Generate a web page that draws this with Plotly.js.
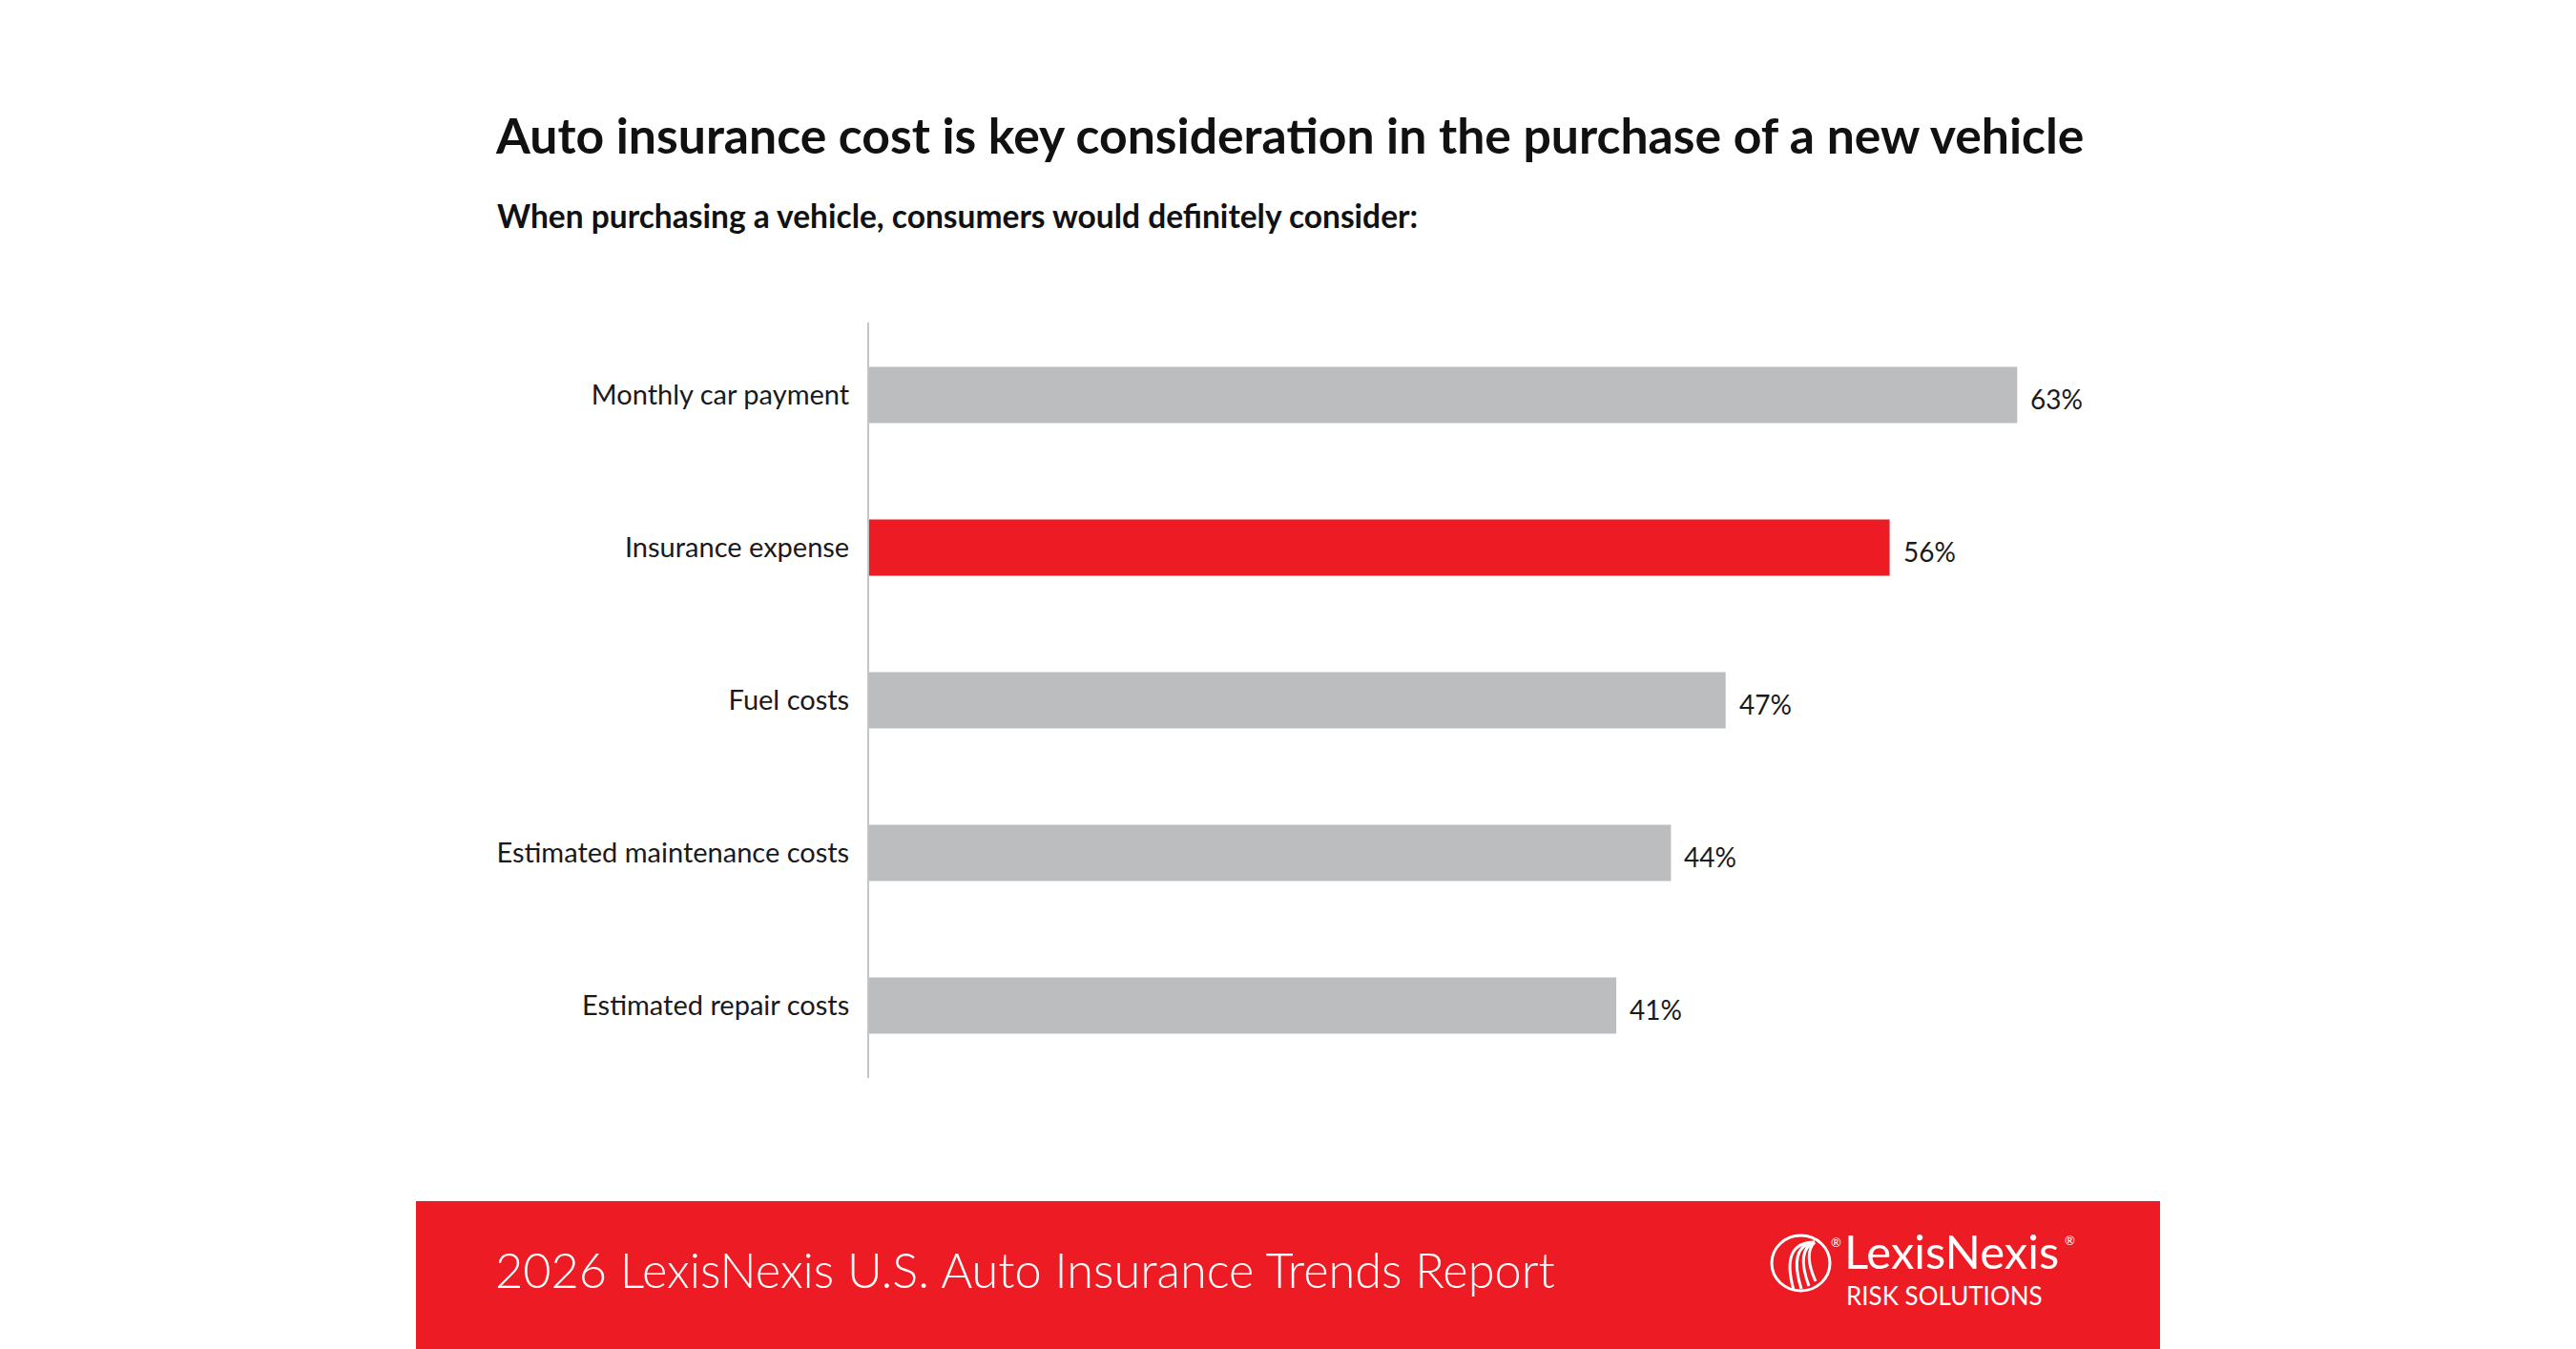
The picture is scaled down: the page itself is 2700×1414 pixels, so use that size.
<!DOCTYPE html>
<html>
<head>
<meta charset="utf-8">
<script src="https://cdn.plot.ly/plotly-3.0.1.min.js"></script>
<style>
  html, body { margin: 0; padding: 0; background: #ffffff; }
  #chart { width: 2700px; height: 1414px; }
</style>
</head>
<body>
<div id="chart"></div>
<script>
// Survey answers: share of consumers who would definitely consider each cost
const categories = [
  "Monthly car payment",
  "Insurance expense",
  "Fuel costs",
  "Estimated maintenance costs",
  "Estimated repair costs"
];
const shares = [63, 56, 47, 44, 41];
const highlighted = "Insurance expense";

const titleText = "Auto insurance cost is key consideration in the purchase of a new vehicle";
const subtitleText = "When purchasing a vehicle, consumers would definitely consider:";
const footerText = "2026 LexisNexis U.S. Auto Insurance Trends Report";
const brandName = "LexisNexis";
const brandTag = "RISK SOLUTIONS";

// Page geometry (pixels)
const W = 2700, H = 1414;
const M = { l: 911, r: 452, t: 338, b: 284 };
const plotW = W - M.l - M.r, plotH = H - M.t - M.b;

// pixel -> paper coordinates, for decoration placed outside the plot area
const px = x => (x - M.l) / plotW;
const py = y => (H - M.b - y) / plotH;
const pt = (x, y) => px(x) + "," + py(y);

const RED = "#ED1C24";
const GREY = "#BCBDBF";
const FONT = "Lato, 'Open Sans', sans-serif";

const barTrace = {
  type: "bar",
  orientation: "h",
  x: shares,
  y: categories,
  width: 0.37,
  marker: {
    color: categories.map(c => c === highlighted ? RED : GREY),
    line: { width: 0 }
  },
  hoverinfo: "skip"
};

// value labels to the right of each bar
const valueLabels = categories.map((c, i) => ({
  x: shares[i], y: c, xref: "x", yref: "y",
  text: shares[i] + "%",
  showarrow: false, xanchor: "left", yanchor: "middle",
  xshift: 12, yshift: -4,
  font: { family: FONT, size: 28, color: "#1a1a1a" }
}));

// Logo glyph: ring with sweeping arcs meeting at a spark point
const spark = [1902, 1302];
const arcs = [
  [[1866, 1302], [1880, 1352]],
  [[1874, 1306], [1888, 1351]],
  [[1882, 1310], [1896, 1348]],
  [[1890, 1314], [1903, 1343]]
].map(([c, e]) => ({
  type: "path", xref: "paper", yref: "paper", layer: "above",
  path: "M" + pt(spark[0], spark[1]) + " Q" + pt(c[0], c[1]) + " " + pt(e[0], e[1]),
  line: { color: "#ffffff", width: 3 }
}));

const shapes = [
  // footer band
  {
    type: "rect", xref: "paper", yref: "paper", layer: "below",
    x0: px(436), x1: px(2264), y0: py(1414), y1: py(1259),
    fillcolor: RED, line: { width: 0 }
  },
  // logo ring
  {
    type: "circle", xref: "paper", yref: "paper", layer: "above",
    x0: px(1857), x1: px(1918), y0: py(1353), y1: py(1295),
    line: { color: "#ffffff", width: 3 }
  },
  ...arcs
];

const annotations = [
  {
    xref: "paper", yref: "paper", x: px(519), y: py(226),
    xanchor: "left", yanchor: "middle", showarrow: false,
    text: subtitleText,
    font: { family: FONT, size: 33.5, weight: 700, color: "#111111" }
  },
  {
    xref: "paper", yref: "paper", x: px(517), y: py(1330),
    xanchor: "left", yanchor: "middle", showarrow: false,
    text: footerText,
    font: { family: FONT, size: 50.5, weight: 300, color: "#ffffff" }
  },
  {
    xref: "paper", yref: "paper", x: px(1931), y: py(1311),
    xanchor: "left", yanchor: "middle", showarrow: false,
    text: brandName,
    font: { family: FONT, size: 49, weight: 400, color: "#ffffff" }
  },
  {
    xref: "paper", yref: "paper", x: px(2162), y: py(1300),
    xanchor: "left", yanchor: "middle", showarrow: false,
    text: "®",
    font: { family: FONT, size: 13, color: "#ffffff" }
  },
  {
    xref: "paper", yref: "paper", x: px(1933), y: py(1358),
    xanchor: "left", yanchor: "middle", showarrow: false,
    text: brandTag,
    font: { family: FONT, size: 26, weight: 400, color: "#ffffff" }
  },
  {
    xref: "paper", yref: "paper", x: px(1917), y: py(1302),
    xanchor: "left", yanchor: "middle", showarrow: false,
    text: "®",
    font: { family: FONT, size: 13, color: "#ffffff" }
  },
  ...valueLabels
];

const layout = {
  width: W, height: H, autosize: false,
  margin: M,
  paper_bgcolor: "#ffffff",
  plot_bgcolor: "#ffffff",
  showlegend: false,
  hovermode: false,
  title: {
    text: titleText,
    xref: "container", yref: "container",
    x: 520 / W, xanchor: "left",
    y: 1 - 143 / H, yanchor: "middle",
    font: { family: FONT, size: 51.7, weight: 700, color: "#111111" }
  },
  xaxis: {
    range: [0, 70],
    visible: false,
    fixedrange: true
  },
  yaxis: {
    type: "category",
    range: [4.475, -0.475],
    showline: true, linecolor: "#c4c4c4", linewidth: 2,
    showgrid: false, zeroline: false,
    ticks: "",
    ticklabelstandoff: 13,
    tickfont: { family: FONT, size: 29, color: "#1a1a1a" },
    fixedrange: true
  },
  shapes: shapes,
  annotations: annotations
};

Plotly.newPlot("chart", [barTrace], layout, { displayModeBar: false, staticPlot: true });
</script>
</body>
</html>
